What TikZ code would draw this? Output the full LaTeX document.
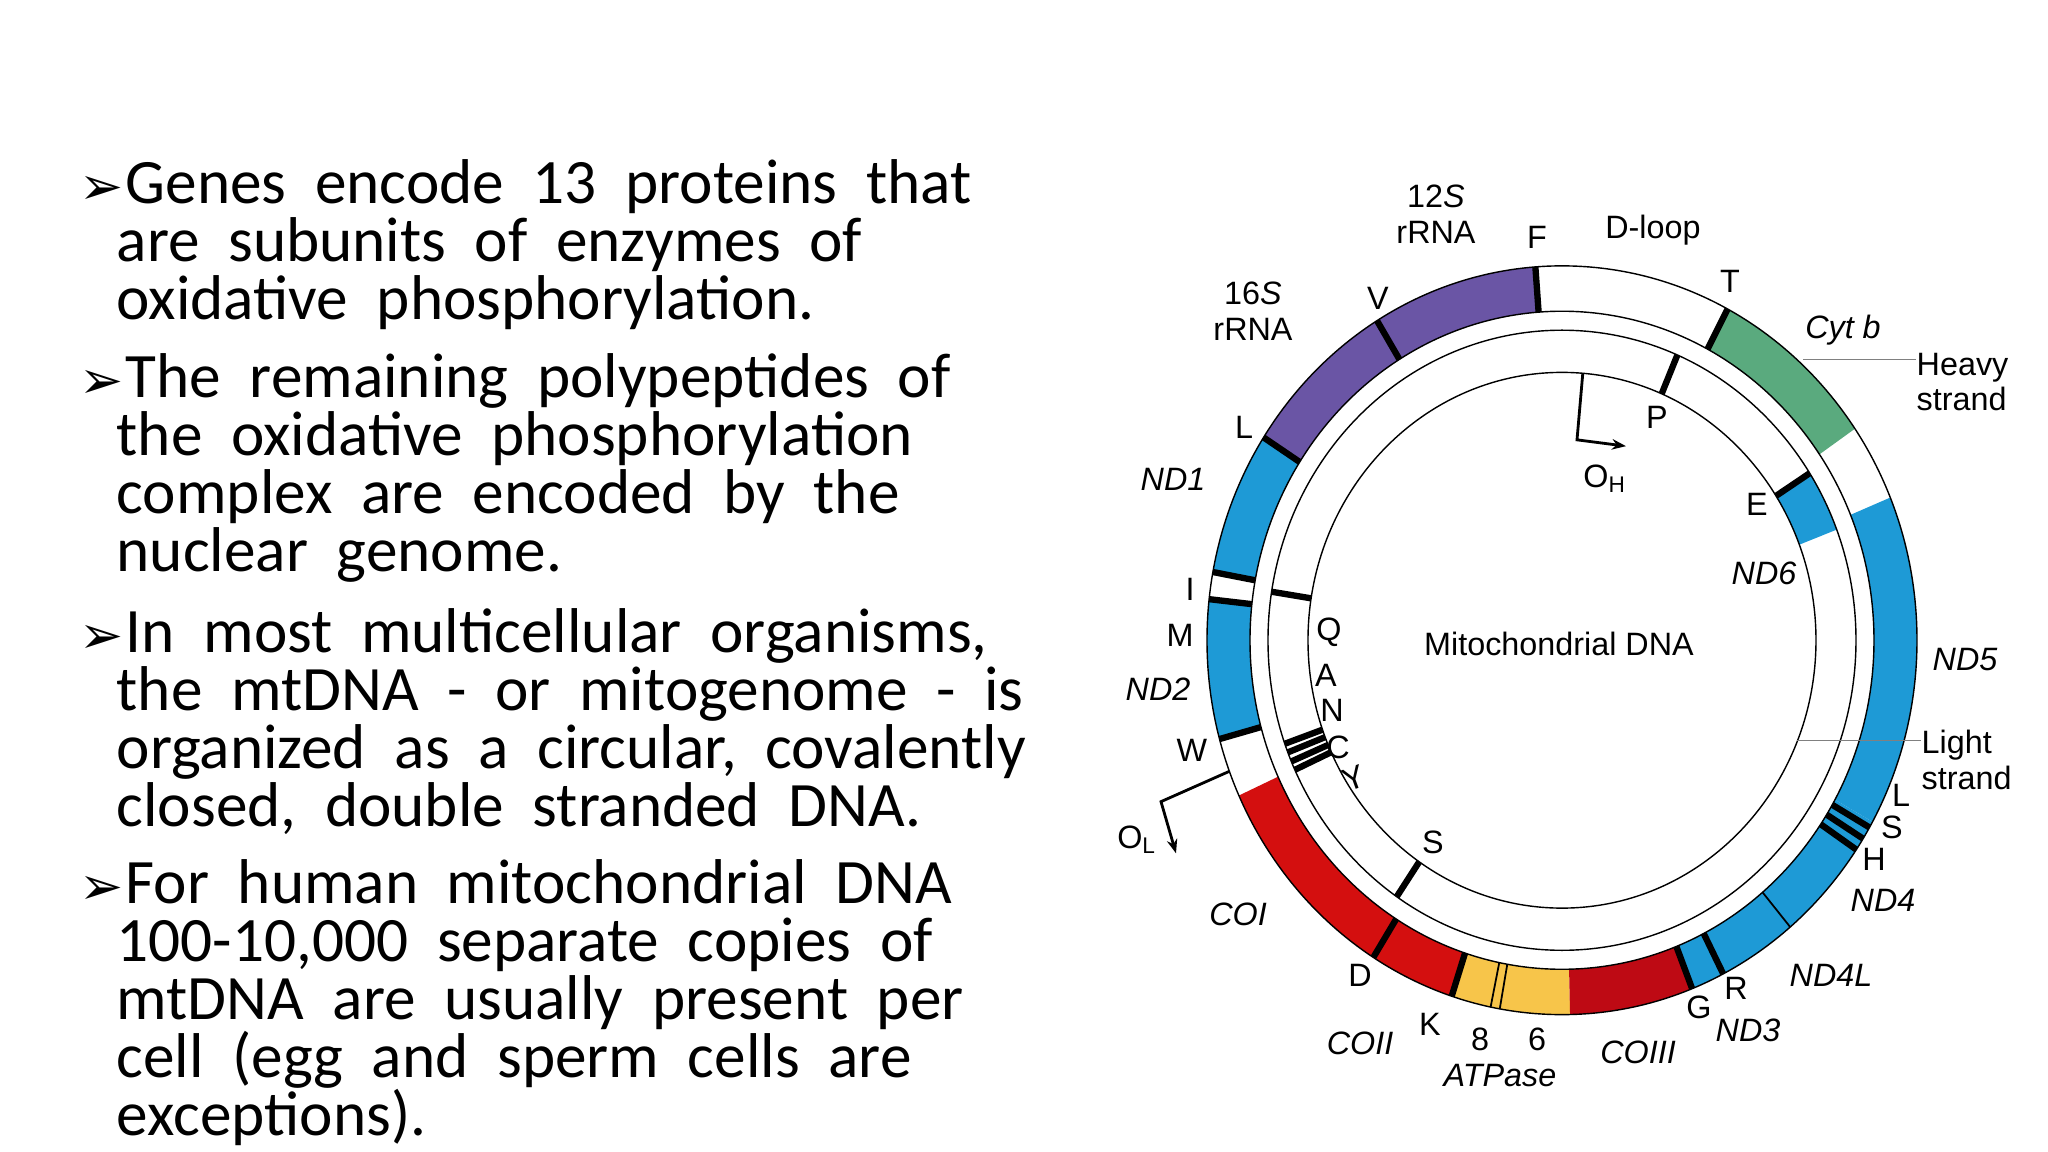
\documentclass[tikz,border=0pt]{standalone}
\usepackage{fontspec}
\setmainfont{Liberation Sans}
\newfontfamily\bodyfont{Carlito}
\newfontfamily\symfont{DejaVu Sans}
\usetikzlibrary{calc,arrows.meta}
\definecolor{rnapurple}{HTML}{6A55A5}
\definecolor{ndblue}{HTML}{1E9AD6}
\definecolor{cytgreen}{HTML}{5AAA7E}
\definecolor{cored}{HTML}{D40F0F}
\definecolor{codark}{HTML}{BE0A14}
\definecolor{atpyellow}{HTML}{F7C54A}
\tikzset{
  lab/.style={font=\fontsize{9.2}{10.2}\selectfont, inner sep=0pt, align=center},
  gene/.style={lab, font=\fontsize{9.2}{10.2}\selectfont\itshape},
  body/.style={font=\bodyfont\fontsize{18}{16.5}\selectfont, inner sep=0pt, align=left, anchor=north west},
  bul/.style={font=\symfont\fontsize{15}{15}\selectfont, inner sep=0pt, anchor=base west},
  tick/.style={line width=1.8pt},
  thin tick/.style={line width=0.5pt},
}
\newcommand{\seg}[3]{\fill[#3] ($(c)+(#1:3.55)$) arc[start angle=#1,end angle=#2,radius=3.55] -- ($(c)+(#2:3.12)$) arc[start angle=#2,end angle=#1,radius=3.12] -- cycle;}
\newcommand{\tk}[2][tick]{\draw[#1] ($(c)+(#2:3.12)$) -- ($(c)+(#2:3.55)$);}
\newcommand{\itk}[2][tick]{\draw[#1] ($(c)+(#2:2.54)$) -- ($(c)+(#2:2.94)$);}
\begin{document}
\begin{tikzpicture}
\useasboundingbox (0,0) rectangle (20.48,11.52);
\spaceskip=0.72em plus 0.1em
% left text
\node[bul] (b1) at (0.79,9.47) {➢};
\node[body] (t1) at (1.16,9.93) {\hspace*{0.09cm}Genes \ encode \ 13 \ proteins \ that\\are \ subunits \ of \ enzymes \ of\\oxidative \ phosphorylation.};
\node[bul] (b2) at (0.79,7.53) {➢};
\node[body] (t2) at (1.16,7.99) {\hspace*{0.09cm}The \ remaining \ polypeptides \ of\\the \ oxidative \ phosphorylation\\complex \ are \ encoded \ by \ the\\nuclear \ genome.};
\node[bul] (b3) at (0.79,4.98) {➢};
\node[body] (t3) at (1.16,5.44) {\hspace*{0.09cm}In \ most \ multicellular \ organisms,\\the \ mtDNA \ - \ or \ mitogenome \ - \ is\\organized \ as \ a \ circular, \ covalently\\closed, \ double \ stranded \ DNA.};
\node[bul] (b4) at (0.79,2.47) {➢};
\node[body] (t4) at (1.16,2.93) {\hspace*{0.09cm}For \ human \ mitochondrial \ DNA\\100-10,000 \ separate \ copies \ of\\mtDNA \ are \ usually \ present \ per\\cell \ (egg \ and \ sperm \ cells \ are\\exceptions).};
% genome map
\begin{scope}[yshift=-0.547cm, yscale=1.0546]
\coordinate (c) at (15.62,5.37);
\fill[white] (c) circle (3.55);
\seg{94.3}{121.4}{rnapurple}
\seg{121.4}{147.2}{rnapurple}
\seg{147.2}{169.5}{ndblue}
\seg{173.7}{195.3}{ndblue}
\seg{204.5}{237.9}{cored}
\seg{237.9}{251.9}{cored}
\seg{251.9}{271.3}{atpyellow}
\seg{271.3}{291.5}{codark}
\seg{291.5}{297}{ndblue}
\seg{297}{331}{ndblue}
\seg{331}{382.4}{ndblue}
\seg{34.4}{62.2}{cytgreen}
\draw[thin] (c) circle (3.55) (c) circle (3.12);
\fill[ndblue] ($(c)+(20.9:2.94)$) arc[start angle=20.9,end angle=32.6,radius=2.94] -- ($(c)+(32.6:2.54)$) arc[start angle=32.6,end angle=20.9,radius=2.54] -- cycle;
\draw[thin] (c) circle (2.94) (c) circle (2.54);
\foreach \a in {94.3,121.4,147.2,169.5,173.7,195.3,237.9,251.9,291.5,297,326,328,330,62.2} {\tk{\a}}
\foreach \a in {258.4,259.9,310} {\tk[thin tick]{\a}}
\foreach \a in {32.6,66.9,171,199.5,201.2,203,204.7,235.8} {\itk{\a}}
% origins
\coordinate (oh0) at ($(c)+(85.3:2.54)$);
\coordinate (oh1) at (15.77,7.27);
\coordinate (oh2) at (16.26,7.21);
\draw[thick,-{Stealth[length=4pt]}] (oh0) -- (oh1) -- (oh2);
\coordinate (ol0) at ($(c)+(200.5:3.55)$);
\coordinate (ol1) at (11.61,3.84);
\coordinate (ol2) at (11.76,3.35);
\draw[thick,-{Stealth[length=4pt]}] (ol0) -- (ol1) -- (ol2);
% labels
\node[lab] (r12) at (14.36,9.41) {12\textit{S}\\rRNA};
\node[lab] (lf) at (15.37,9.19) {F};
\node[lab] (dl) at (16.53,9.26) {D-loop};
\node[lab] (lt) at (17.30,8.77) {T};
\node[gene] (cyt) at (18.43,8.31) {Cyt b};
\node[lab, anchor=west, align=left] (hs) at (19.16,7.82) {Heavy\\strand};
\node[lab] (r16) at (12.53,8.49) {16\textit{S}\\rRNA};
\node[lab] (lv) at (13.78,8.61) {V};
\node[lab] (ll) at (12.44,7.39) {L};
\node[lab] (lp) at (16.57,7.48) {P};
\node[lab] (loh) at (16.05,6.90) {O$_{\mathrm{H}}$};
\node[gene] (nd1) at (11.73,6.90) {ND1};
\node[lab] (le) at (17.57,6.66) {E};
\node[gene] (nd6) at (17.64,6.01) {ND6};
\node[lab] (li) at (11.90,5.85) {I};
\node[lab] (lm) at (11.80,5.42) {M};
\node[lab] (lq) at (13.29,5.45) {Q};
\node[lab] (mt) at (15.59,5.34) {Mitochondrial DNA};
\node[gene] (nd5) at (19.65,5.19) {ND5};
\node[gene] (nd2) at (11.58,4.91) {ND2};
\node[lab] (la) at (13.26,5.04) {A};
\node[lab] (ln) at (13.32,4.71) {N};
\node[lab] (lc) at (13.38,4.36) {C};
\node[lab, rotate=20] (ly) at (13.54,4.06) {Y};
\node[lab] (lw) at (11.92,4.33) {W};
\node[lab, anchor=west, align=left] (ls) at (19.21,4.24) {Light\\strand};
\node[lab] (ll2) at (19.01,3.90) {L};
\node[lab] (ls2) at (18.92,3.60) {S};
\node[lab] (lh) at (18.74,3.29) {H};
\node[lab] (lol) at (11.37,3.48) {O$_{\mathrm{L}}$};
\node[lab] (ls3) at (14.33,3.45) {S};
\node[gene] (co1) at (12.38,2.77) {COI};
\node[gene] (nd4) at (18.83,2.90) {ND4};
\node[lab] (ld) at (13.60,2.19) {D};
\node[gene] (nd4l) at (18.31,2.19) {ND4L};
\node[lab] (lr) at (17.36,2.07) {R};
\node[lab] (lg) at (16.99,1.89) {G};
\node[gene] (co2) at (13.60,1.55) {COII};
\node[lab] (lk) at (14.30,1.73) {K};
\node[lab] (l8) at (14.80,1.59) {8};
\node[lab] (l6) at (15.37,1.59) {6};
\node[gene] (atp) at (15.00,1.24) {ATPase};
\node[gene] (co3) at (16.38,1.46) {COIII};
\node[gene] (nd3) at (17.48,1.67) {ND3};
% strand leaders
\coordinate (hv) at (18.03,8.03);
\coordinate (lg0) at (17.97,4.42);
\draw[gray, thin] (hv) -- (hs.west |- hv);
\draw[gray, thin] (lg0) -- (ls.west |- lg0);
\end{scope}
\end{tikzpicture}
\end{document}
